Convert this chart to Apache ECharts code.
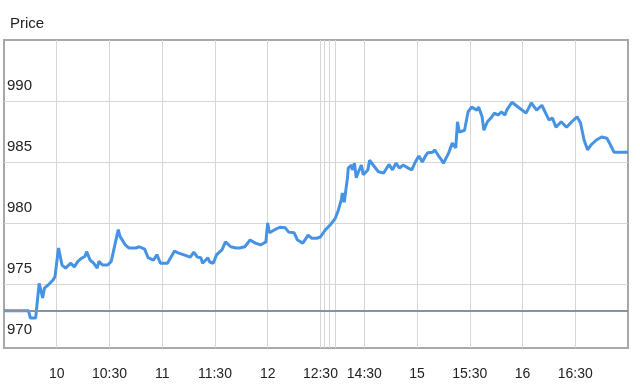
<!DOCTYPE html>
<html><head><meta charset="utf-8">
<script src="https://cdn.jsdelivr.net/npm/echarts@6/dist/echarts.min.js"></script>
<style>html,body{margin:0;padding:0;background:#fff}#c{width:640px;height:390px}</style>
</head><body><div id="c"></div>
<script>
// ---- data ----
const times = ['09:30','09:44','09:45','09:48','09:50','09:52','09:53','09:55','09:56','09:58','09:59',
 '10:01','10:03','10:05','10:08','10:10','10:12','10:14','10:16','10:17','10:19','10:21','10:23','10:24','10:26','10:27','10:29',
 '10:31','10:32','10:35','10:36','10:39','10:41','10:45','10:47','10:50','10:52','10:55','10:57','10:59',
 '11:00','11:03','11:07','11:09','11:12','11:16','11:18','11:20','11:22','11:23','11:26','11:27','11:29',
 '11:31','11:34','11:36','11:39','11:42','11:44','11:47','11:50','11:53','11:56','11:59',
 '12:00','12:01','12:04','12:07','12:10','12:12','12:15','12:17','12:20','12:23','12:25','12:28','12:30',
 '12:44','12:57','13:11','13:19','13:27','13:30','13:35','13:44','13:46','13:55','13:57','14:03','14:08','14:14','14:22','14:27',
 '14:32','14:33','14:35','14:38','14:41','14:44','14:46','14:48','14:50','14:52','14:55','14:57','14:59',
 '15:01','15:03','15:05','15:06','15:09','15:10','15:12','15:14','15:15','15:18','15:20','15:22','15:23','15:24','15:27','15:29',
 '15:31','15:34','15:35','15:37','15:38','15:40','15:42','15:44','15:46','15:48','15:50','15:51','15:54','15:55','15:58',
 '16:02','16:05','16:08','16:11','16:12','16:15','16:17','16:19','16:22','16:25','16:28','16:29',
 '16:31','16:33','16:35','16:37','16:39','16:42','16:45','16:48','16:50','16:52','16:56','17:00'];
const prices = [972.8,972.8,972.2,972.2,975.05,973.85,974.65,974.9,974.8,975.35,975.6,
 977.95,976.55,976.3,976.7,976.4,976.85,977.1,977.25,977.65,976.95,976.7,976.3,976.85,976.55,976.7,976.55,
 976.85,976.95,979.45,978.9,978.2,977.95,977.95,978.05,977.85,977.15,976.95,977.4,976.7,
 976.55,976.7,977.7,977.55,977.4,977.2,977.6,977.2,977.15,976.7,977.15,976.8,976.7,
 977.4,977.8,978.45,978.05,977.95,977.95,978.05,978.6,978.35,978.2,978.45,
 980.0,979.2,979.45,979.65,979.6,979.25,979.2,978.6,978.35,979.0,978.75,978.75,978.85,
 979.45,979.85,980.4,981.05,981.9,982.45,981.7,983.7,984.5,984.75,984.35,984.9,983.7,984.2,984.75,983.95,
 984.35,985.15,984.75,984.2,984.1,984.8,984.35,984.9,984.5,984.75,984.5,984.35,985.0,
 985.5,985.0,985.55,985.75,985.8,986.0,985.55,985.15,984.9,985.75,986.55,986.15,988.3,987.45,987.6,989.1,
 989.5,989.25,989.5,988.7,987.6,988.3,988.6,989.0,988.85,989.1,988.85,989.25,989.9,989.9,989.45,
 989.0,989.85,989.25,989.65,989.5,988.45,988.6,987.85,988.3,987.85,988.3,988.2,
 988.7,988.2,986.8,986.0,986.4,986.8,987.05,986.95,986.4,985.8,985.8,985.8];
const prevClose = 972.8;
const xTickTimes = ['10:00','10:30','11:00','11:30','12:00','12:30','14:30','15:00','15:30','16:00','16:30'];
const xTickText  = ['10','10:30','11','11:30','12','12:30','14:30','15','15:30','16','16:30'];
const extraGridTimes = ['12:40','12:55','13:10'];
const yLabelValues = [970,975,980,985,990];
const yGridValues = [975,980,985,990];
const sessionStart = '09:30', sessionEnd = '17:00', breakStart = '12:30', breakEnd = '14:30';
const yMin = 969.75, yMax = 995;

// ---- axis scale with compressed midday break ----
const BREAK_UNITS = 25;
function mins(s){const p=s.split(':').map(Number);return p[0]*60+p[1];}
function pos(s){
  const t=mins(s), a=mins(sessionStart), b0=mins(breakStart), b1=mins(breakEnd);
  if(t<=b0) return t-a;
  if(t<=b1) return (b0-a)+(t-b0)*BREAK_UNITS/(b1-b0);
  return (b0-a)+BREAK_UNITS+(t-b1);
}
const seriesData = times.map((t,i)=>[pos(t),prices[i]]);
const xLabelPos = xTickTimes.map(pos);
const xGridPos = xTickTimes.concat(extraGridTimes).map(pos).sort((a,b)=>a-b);

const FONT = '"Liberation Sans", Arial, sans-serif';
const chart = echarts.init(document.getElementById('c'), null, {renderer:'canvas'});
chart.setOption({
  animation:false,
  backgroundColor:'#fff',
  title:{text:'Price', left:5, top:11, textStyle:{fontFamily:FONT, fontSize:15, fontWeight:'normal', color:'#222'}},
  grid:{left:4, right:12, top:40, bottom:42, show:true, borderColor:'#a8a8a8', borderWidth:2, backgroundColor:'transparent'},
  xAxis:{
    type:'value', min:0, max:pos(sessionEnd),
    axisLine:{show:false},
    axisTick:{show:false, customValues:xGridPos},
    axisLabel:{customValues:xLabelPos, margin:19, fontFamily:FONT, fontSize:14, color:'#222',
      formatter:(v)=>{const i=xLabelPos.findIndex(p=>Math.abs(p-v)<1e-6);return i>=0?xTickText[i]:'';}},
    splitLine:{show:true, lineStyle:{color:'#d6d6d6', width:1}}
  },
  yAxis:{
    type:'value', min:yMin, max:yMax,
    axisLine:{show:false},
    axisTick:{show:false, customValues:yGridValues},
    axisLabel:{customValues:yLabelValues, inside:true, margin:3, align:'left', verticalAlign:'bottom',
      lineHeight:15, padding:[0,0,8,0], fontFamily:FONT, fontSize:15, color:'#222'},
    splitLine:{show:true, lineStyle:{color:'#d6d6d6', width:1}}
  },
  series:[{
    type:'line', data:seriesData, showSymbol:false, symbol:'none',
    lineStyle:{color:'#4793e3', width:3}, z:3,
    markLine:{silent:true, symbol:'none', z:4, label:{show:false},
      lineStyle:{color:'#8491a6', width:2, type:'solid'},
      data:[{yAxis:prevClose}]}
  }]
});
</script></body></html>
